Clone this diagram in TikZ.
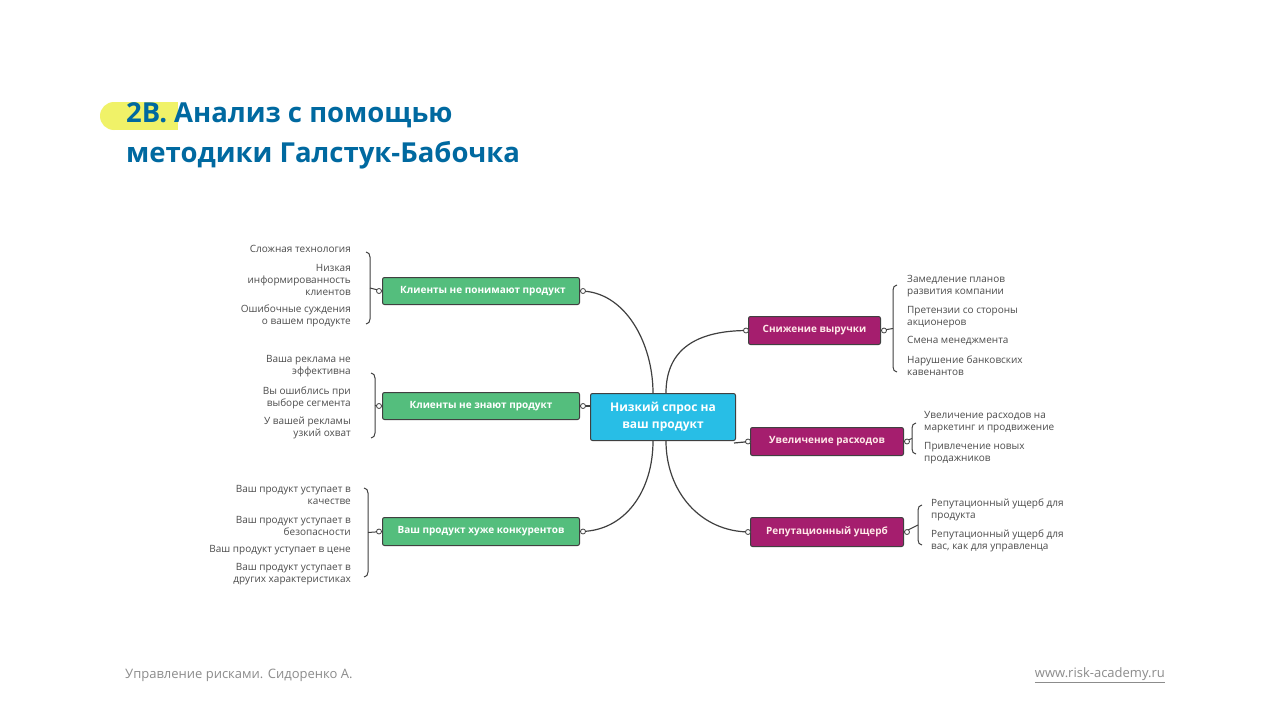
\documentclass[tikz,border=0pt]{standalone}
\usepackage{fontspec}
\setmainfont{Open Sans}
\begin{document}
\begin{tikzpicture}[x=1pt,y=-1pt,
  box/.style={draw=black!75,line width=1pt,rounded corners=2pt,text=white,font=\fontsize{10}{12}\selectfont\bfseries,inner sep=0pt,anchor=north west},
  item/.style={font=\fontsize{10}{12}\selectfont,text=black!70,inner sep=0pt},
  litem/.style={item,align=right,anchor=east},
  ritem/.style={item,align=left,anchor=west},
  con/.style={draw=black!75,line width=1.2pt},
  dot/.style={circle,draw=black!75,fill=white,line width=0.8pt,inner sep=0pt,minimum size=5pt}]
\useasboundingbox (0,0) rectangle (1280,720);
\fill[white] (0,0) rectangle (1280,720);
\definecolor{tblue}{RGB}{0,105,160}
\definecolor{gfill}{RGB}{84,190,125}
\definecolor{mfill}{RGB}{165,30,110}
\definecolor{cfill}{RGB}{40,190,230}
\tikzset{gbox/.style={box,fill=gfill},mbox/.style={box,fill=mfill,text=pink!35!white}}
% title
\fill[yellow!90!green!60] (114,102) rectangle (178,130);
\fill[yellow!90!green!60] (114,116) circle (14);
\node[anchor=west,inner sep=0pt,font=\fontsize{27.5}{30}\selectfont\bfseries,text=tblue] (t1) at (126,115) {2В. Анализ с помощью};
\node[anchor=west,inner sep=0pt,font=\fontsize{27.5}{30}\selectfont\bfseries,text=tblue] (t2) at (126,155) {методики Галстук-Бабочка};
% center
\node[box,fill=cfill,minimum width=145pt,minimum height=47pt,align=center,font=\fontsize{12}{17}\selectfont\bfseries] (c) at (590,393) {Низкий спрос на\\ваш продукт};
% left boxes
\node[gbox,minimum width=197pt,minimum height=27pt] (l1) at (382,277) {\hspace*{4pt}Клиенты не понимают продукт\hfill};
\node[gbox,minimum width=197pt,minimum height=27pt] (l2) at (382,392) {Клиенты не знают продукт};
\node[gbox,minimum width=197pt,minimum height=28pt] (l3) at (382,517) {Ваш продукт хуже конкурентов};
% right boxes
\node[mbox,minimum width=132pt,minimum height=28pt] (r1) at (748,316) {Снижение выручки};
\node[mbox,minimum width=153pt,minimum height=28pt] (r2) at (750,427) {Увеличение расходов};
\node[mbox,minimum width=153pt,minimum height=29pt] (r3) at (750,517) {Репутационный ущерб};
% connectors
\draw[con] (l1.east) .. controls +(45,0) and +(0,-50) .. ([xshift=-10pt]c.north);
\draw[con] (r1.west) .. controls +(-50,0) and +(0,-45) .. ([xshift=3pt]c.north);
\draw[con] (l3.east) .. controls +(45,0) and +(0,50) .. ([xshift=-10pt]c.south);
\draw[con] (r3.west) .. controls +(-50,0) and +(0,50) .. ([xshift=3pt]c.south);
\draw[con] (l2.east) -- (c.west |- l2.east);
\draw[con] (r2.west) -- ([xshift=-2pt,yshift=-2pt]c.south east);
\foreach \n in {l1,l2,l3}{\node[dot] at ([xshift=3pt]\n.east) {};}
\foreach \n in {r1,r2,r3}{\node[dot] at ([xshift=-2pt]\n.west) {};}
% brackets
\newcommand\brL[4]{% x, ytop, ybot, box
  \draw[con,line width=1pt] (#1-4,#2) to[out=0,in=90] (#1,#2+5) -- (#1,#3-5) to[out=-90,in=0] (#1-4,#3);
  \draw[con,line width=1pt] (#1,0.5*#2+0.5*#3) -- (#4.west);
  \node[dot] at ([xshift=-3pt]#4.west) {};}
\newcommand\brR[4]{%
  \draw[con,line width=1pt] (#1+4,#2) to[out=180,in=90] (#1,#2+5) -- (#1,#3-5) to[out=-90,in=180] (#1+4,#3);
  \draw[con,line width=1pt] (#4.east) -- (#1,0.5*#2+0.5*#3);
  \node[dot] at ([xshift=3pt]#4.east) {};}
\brL{370}{252}{324}{l1}
\brL{375}{373}{438}{l2}
\brL{368}{488}{577}{l3}
\brR{893}{285}{372}{r1}
\brR{912}{423}{454}{r2}
\brR{918}{505}{545}{r3}
% left items
\node[litem] (a1) at (351,249) {Сложная технология};
\node[litem] (a2) at (351,280) {Низкая\\информированность\\клиентов};
\node[litem] (a3) at (351,316) {Ошибочные суждения\\о вашем продукте};
\node[litem] (b1) at (351,366) {Ваша реклама не\\эффективна};
\node[litem] (b2) at (351,398) {Вы ошиблись при\\выборе сегмента};
\node[litem] (b3) at (351,428) {У вашей рекламы\\узкий охват};
\node[litem] (d1) at (351,495) {Ваш продукт уступает в\\качестве};
\node[litem] (d2) at (351,526) {Ваш продукт уступает в\\безопасности};
\node[litem] (d3) at (351,550) {Ваш продукт уступает в цене};
\node[litem] (d4) at (351,574) {Ваш продукт уступает в\\других характеристиках};
% right items
\node[ritem] (e1) at (907,286) {Замедление планов\\развития компании};
\node[ritem] (e2) at (907,317) {Претензии со стороны\\акционеров};
\node[ritem] (e3) at (907,341) {Смена менеджмента};
\node[ritem] (e4) at (907,366) {Нарушение банковских\\кавенантов};
\node[ritem] (f1) at (924,422) {Увеличение расходов на\\маркетинг и продвижение};
\node[ritem] (f2) at (924,453) {Привлечение новых\\продажников};
\node[ritem] (g1) at (931,510) {Репутационный ущерб для\\продукта};
\node[ritem] (g2) at (931,541) {Репутационный ущерб для\\вас, как для управленца};
% footer
\node[anchor=west,inner sep=0pt,font=\fontsize{13}{15}\selectfont,text=black!45] (ft1) at (125,675) {Управление рисками. Сидоренко А.};
\node[anchor=east,inner sep=0pt,font=\fontsize{13}{15}\selectfont,text=black!45] (ft2) at (1165,675) {\underline{www.risk-academy.ru}};
\end{tikzpicture}
\end{document}
